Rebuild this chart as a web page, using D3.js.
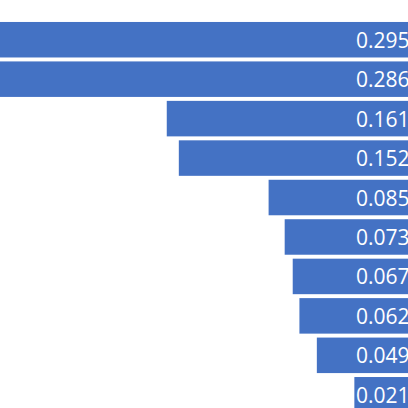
<!DOCTYPE html>
<html><head><meta charset="utf-8">
<script src="https://cdn.jsdelivr.net/npm/d3@7"></script>
<style>html,body{margin:0;padding:0;background:#fff;overflow:hidden}</style>
</head><body>
<svg id="c" width="408" height="408"></svg>
<script>
const categories = ["c1","c2","c3","c4","c5","c6","c7","c8","c9","c10"];
const values = [0.295,0.286,0.161,0.152,0.085,0.073,0.067,0.062,0.049,0.021];
const labels = ["0.295","0.286","0.161","0.152","0.085","0.073","0.067","0.062","0.049","0.021"];

const svg = d3.select("#c");
const x = d3.scaleLinear().domain([0, 0.3]).range([382.5, 382.5 - 0.3*1340]);
const y = d3.scaleBand().domain(categories).range([20, 414.5]).paddingInner(0.1).paddingOuter(0.05);

const g = svg.append("g");
g.selectAll("rect").data(values).join("rect")
  .attr("x", d => x(d))
  .attr("y", (d,i) => y(categories[i]))
  .attr("width", d => 440 - x(d))
  .attr("height", y.bandwidth())
  .attr("fill", "#4472C4");

g.selectAll("text").data(labels).join("text")
  .attr("x", 356)
  .attr("y", (d,i) => y(categories[i]) + y.bandwidth()/2 + 8)
  .attr("fill", "#fff")
  .attr("font-family", "'Open Sans', sans-serif")
  .attr("font-size", 21)
  .text(d => d);
</script>
</body></html>
